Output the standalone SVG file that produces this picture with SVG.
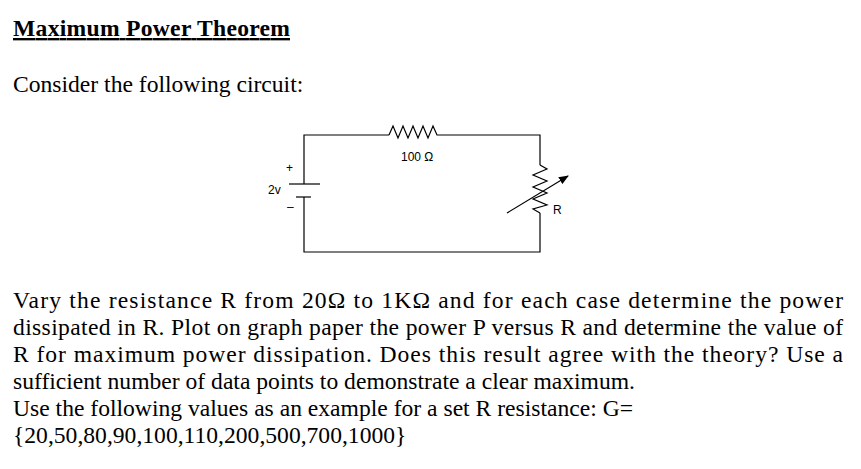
<svg xmlns="http://www.w3.org/2000/svg" width="861" height="469" viewBox="0 0 861 469">
<style>
.t{font-family:"Liberation Serif",serif;font-size:23.6px;fill:#000}
.s{font-family:"Liberation Sans",sans-serif;font-size:12px;fill:#000}
.w{fill:none;stroke:#000;stroke-width:1.2}
</style>
<defs><marker id="ah" markerWidth="10" markerHeight="8" refX="9" refY="4" orient="auto" markerUnits="userSpaceOnUse"><path d="M0,0 L10,4 L0,8 Z" fill="#000"/></marker></defs>
<rect width="861" height="469" fill="#fff"/>
<text class="t" x="13" y="36" font-weight="bold" text-decoration="underline" textLength="277">Maximum Power Theorem</text>
<text class="t" x="13" y="92">Consider the following circuit:</text>
<g id="connectors">
<path class="w" d="M304,184 V135 H389 M441,135 H540 V165 M540,213 V252 H304 V197"/>
</g>
<g id="battery">
<line class="w" x1="289" y1="184" x2="320" y2="184"/>
<line class="w" x1="296" y1="197" x2="311" y2="197"/>
<text class="s" x="286" y="172">+</text>
<text class="s" x="268" y="194">2v</text>
<text class="s" x="287" y="211">–</text>
</g>
<g id="r100">
<path class="w" d="M389,135 L393,126 L398,138 L403,126 L408,138 L413,126 L418,138 L423,126 L428,138 L433,126 L437,135 L441,135"/>
<text class="s" x="401" y="161">100 Ω</text>
</g>
<g id="rvar">
<path class="w" d="M540,165 L547,169 L533,175 L547,181 L533,187 L547,193 L533,199 L547,205 L533,209 L540,213"/>
<line class="w" x1="507" y1="213" x2="568" y2="176" marker-end="url(#ah)"/>
<text class="s" x="553" y="214">R</text>
</g>
<text class="t" x="13" y="308" textLength="830" lengthAdjust="spacing">Vary the resistance R from 20Ω to 1KΩ and for each case determine the power</text>
<text class="t" x="13" y="335" textLength="830" lengthAdjust="spacing">dissipated in R.  Plot on graph paper the power P versus R and determine the value of</text>
<text class="t" x="13" y="362" textLength="830" lengthAdjust="spacing">R for maximum power dissipation.  Does this result agree with the theory?  Use a</text>
<text class="t" x="13" y="389">sufficient number of data points to demonstrate a clear maximum.</text>
<text class="t" x="13" y="416">Use the following values as an example for a set R resistance: G=</text>
<text class="t" x="13" y="443">{20,50,80,90,100,110,200,500,700,1000}</text>
</svg>
